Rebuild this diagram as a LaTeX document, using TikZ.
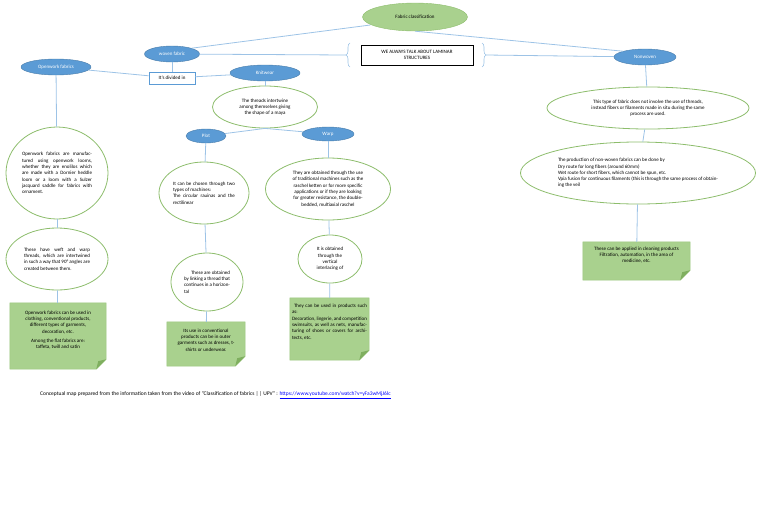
\documentclass[tikz,border=0pt]{standalone}
\usepackage{fontspec}
\setmainfont{Carlito}
\usetikzlibrary{shapes.geometric,calc,decorations.pathreplacing}
\definecolor{bl}{HTML}{5B9BD5}
\definecolor{ln}{HTML}{9DC3E6}
\definecolor{gf}{HTML}{A9D18E}
\definecolor{gd}{HTML}{7FAF5F}
\definecolor{gb}{HTML}{70AD47}
\newcommand{\fs}{\fontsize{5}{6.3}\selectfont}
\tikzset{
 blue/.style={ellipse,fill=bl,draw=bl!80!black,line width=0.4pt,text=white,font=\fs,inner sep=0},
 gell/.style={ellipse,draw=gb!80,line width=0.8pt,fill=white,font=\fs,inner sep=0,align=center},
 notebox/.style={rectangle,font=\fs,inner sep=2pt,align=center},
 con/.style={draw=ln,line width=0.8pt},
}
\newcommand{\notebg}[1]{%
 \fill[gf] (#1.north west) -- (#1.north east) -- ($(#1.south east)+(0,-10)$) -- ($(#1.south east)+(-10,0)$) -- (#1.south west) -- cycle;
 \draw[gb!70,line width=0.5pt] (#1.north west) -- (#1.north east) -- ($(#1.south east)+(0,-10)$) -- ($(#1.south east)+(-10,0)$) -- (#1.south west) -- cycle;
 \fill[gd] ($(#1.south east)+(0,-10)$) -- ($(#1.south east)+(-10,0)$) -- ($(#1.south east)+(-8,-8)$) -- cycle;}
\begin{document}
\begin{tikzpicture}[x=1pt,y=-1pt]
\useasboundingbox (0,0) rectangle (768,525);
\node[ellipse,fill=gf,draw=gb!80,inner sep=0,minimum width=105pt,minimum height=28pt,font=\fs] (fc) at (415,17) {Fabric classification};
\node[blue,minimum width=55pt,minimum height=16pt] (wf) at (172,54) {woven fabric};
\node[blue,minimum width=70pt,minimum height=16pt] (ow) at (56,67) {Openwork fabrics};
\node[draw=bl,line width=0.6pt,minimum width=46pt,minimum height=12pt,inner sep=0,font=\fs] (div) at (172,78) {It's divided in};
\node[blue,minimum width=70pt,minimum height=16pt] (kn) at (265,73) {Knitwear};
\node[draw=black,line width=0.8pt,minimum width=112pt,minimum height=20pt,inner sep=0,align=center,font=\fs] (we) at (417,55) {WE ALWAYS TALK ABOUT LAMINAR\\STRUCTURES};
\draw[ln,line width=0.6pt,decorate,decoration={brace,amplitude=4pt}] (350,67) -- (350,43);
\draw[ln,line width=0.6pt,decorate,decoration={brace,amplitude=4pt}] (482,43) -- (482,67);
\coordinate (bl) at (346,55);
\coordinate (br) at (486,55);
\node[blue,minimum width=62pt,minimum height=16pt] (nw) at (645,57) {Nonwoven};
\node[gell,minimum width=105pt,minimum height=42pt] (thr) at (265,107) {The threads intertwine\\among themselves giving\\the shape of a maya};
\node[blue,minimum width=40pt,minimum height=14pt] (plot) at (206,136) {Plot};
\node[blue,minimum width=52pt,minimum height=14pt] (warp) at (328,134) {Warp};
\node[gell,minimum width=102pt,minimum height=92pt] (owd) at (57,173) {\parbox{70pt}{\fs Openwork fabrics are manufactured using openwork looms, whether they are enolilos which are made with a Dornier heddle loom or a loom with a Sulzer jacquard saddle for fabrics with ornament.}};
\node[gell,minimum width=90pt,minimum height=62pt] (pd) at (204,193) {\parbox{62pt}{\fs It can be chosen through two types of machines:\\ \hspace*{0pt}The circular rauinas and the rectilinear}};
\node[gell,minimum width=125pt,minimum height=62pt] (wd) at (328,189) {They are obtained through the use\\of traditional machines such as the\\raschel ketten or for more specific\\applications or if they are looking\\for greater resistance, the double-\\bedded, multiaxial raschel};
\node[gell,minimum width=202pt,minimum height=42pt] (nwd) at (648,108) {This type of fabric does not involve the use of threads,\\instead fibers or filaments made in situ during the same\\process are used.};
\node[gell,minimum width=235pt,minimum height=62pt] (prod) at (638,173) {\parbox{160pt}{\fs The production of non-woven fabrics can be done by\\Dry route for long fibers (around 60mm)\\Wet route for short fibers, which cannot be spun, etc.\\Vpia fusion for continuous filaments (this is through the same process of obtaining the veil}};
\node[gell,minimum width=102pt,minimum height=62pt] (weft) at (57,259) {\parbox{66pt}{\fs These have weft and warp threads, which are intertwined in such a way that 90° angles are created between them.}};
\node[gell,minimum width=72pt,minimum height=58pt] (pobt) at (207,282) {\parbox{46pt}{\fs \hfill These are obtained by linking a thread that continues in a horizontal}};
\node[gell,minimum width=64pt,minimum height=48pt] (wobt) at (330,259) {It is obtained\\through the\\vertical\\interlacing of};
\node[notebox,minimum width=96pt,minimum height=66pt] (n1) at (58,336) {};
\node[notebox,minimum width=78pt,minimum height=44pt] (n2) at (206,344) {};
\node[notebox,minimum width=79pt,minimum height=62pt] (n3) at (329.5,329) {};
\node[notebox,minimum width=107pt,minimum height=38pt] (n4) at (636.5,261) {};
\notebg{n1}\notebg{n2}\notebg{n3}\notebg{n4}
\node[notebox] at (58,330) {Openwork fabrics can be used in\\clothing, conventional products,\\different types of garments,\\decoration, etc.\\[3pt]Among the flat fabrics are:\\taffeta, twill and satin};
\node[notebox] at (206,340) {Its use in conventional\\products can be in outer\\garments such as dresses, t-\\shirts or underwear.};
\node[notebox] at (329.5,322) {\parbox{75pt}{\fs \hspace*{2pt}They can be used in products such as:\\Decoration, lingerie, and competition swimsuits, as well as nets, manufacturing of shoes or covers for architects, etc.}};
\node[notebox] at (636.5,255) {These can be applied in cleaning products\\Filtration, automation, in the area of\\medicine, etc.};
\draw[con] (fc.west) ++(8,8) -- (wf.north east);
\draw[con] (fc.south) -- (nw.north west);
\draw[con] (wf) -- (bl);
\draw[con] (br) -- (nw);
\draw[con] (wf) -- (div);
\draw[con] (ow) -- (div);
\draw[con] (div) -- (kn);
\draw[con] (kn) -- (thr);
\draw[con] (thr.south) -- (plot);
\draw[con] (thr.south) -- (warp);
\draw[con] (plot) -- (pd);
\draw[con] (pd) -- (pobt);
\draw[con] (pobt) -- (n2);
\draw[con] (warp) -- (wd);
\draw[con] (wd) -- (wobt);
\draw[con] (wobt) -- (n3);
\draw[con] (ow) -- (owd);
\draw[con] (owd) -- (weft);
\draw[con] (weft) -- (n1);
\draw[con] (nw) -- (nwd);
\draw[con] (nwd) -- (prod);
\draw[con] (prod) -- (n4);
\node[font=\fontsize{5.5}{6}\selectfont,anchor=west,inner sep=0] (cap) at (40,395) {Conceptual map prepared from the information taken from the video of "Classification of fabrics | | UPV" : \textcolor{blue}{\underline{https://www.youtube.com/watch?v=yFa3wMjJ6lc}}};
\end{tikzpicture}
\end{document}
